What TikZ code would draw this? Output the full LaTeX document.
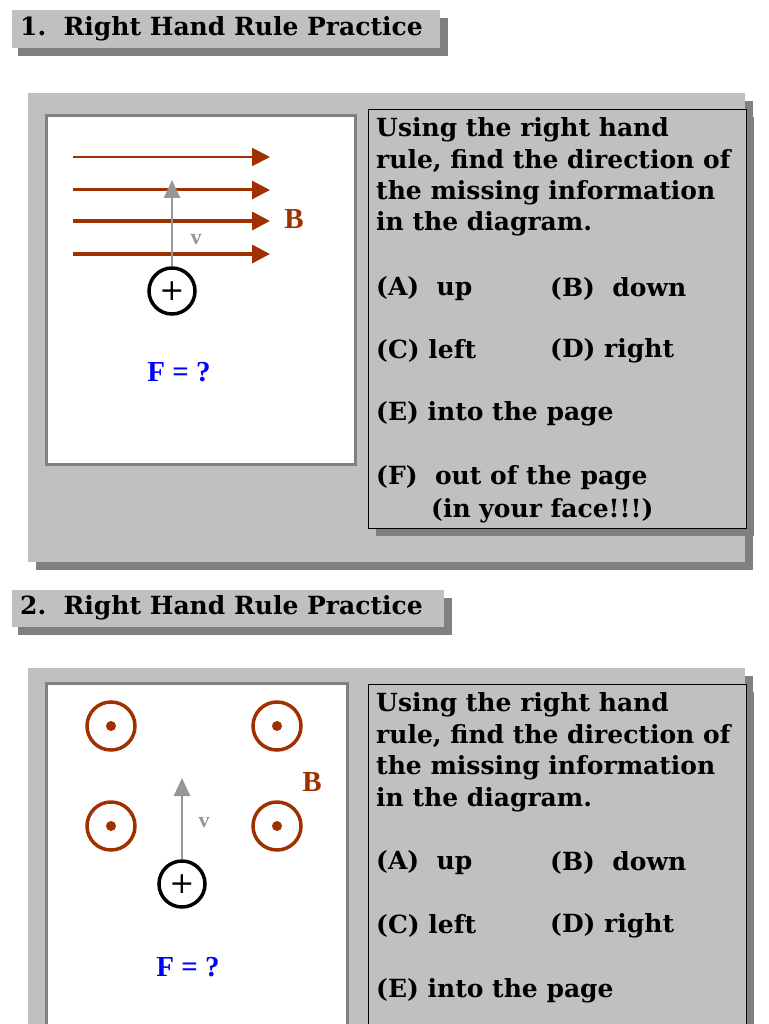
\documentclass[tikz,border=0pt]{standalone}
\usepackage{fontspec}
\setmainfont{DejaVu Serif}
\newfontfamily\tnr{Liberation Serif}
\usetikzlibrary{arrows.meta}
\definecolor{pg}{RGB}{192,192,192}
\definecolor{sh}{RGB}{128,128,128}
\definecolor{br}{RGB}{160,48,0}
\definecolor{vg}{RGB}{150,150,150}
\tikzset{x=1pt,y=-1pt,
 tx/.style={anchor=west,inner sep=0,font=\fontsize{25}{27}\selectfont\bfseries},
 bf/.style={-{Triangle[length=18pt,width=18pt]},br,line width=3pt},
 vf/.style={-{Triangle[length=18pt,width=16pt]},vg,line width=2.5pt},
 lab/.style={font=\tnr\fontsize{29}{31}\selectfont\bfseries}}
\begin{document}
\begin{tikzpicture}
\useasboundingbox[fill=white] (0,0) rectangle (768,1024);
% titles
\fill[sh] (18,18) rectangle (448,56);
\fill[pg] (12,10) rectangle (440,48);
\node[tx] (t1) at (20,29) {1.\ \ Right Hand Rule Practice};
\fill[sh] (18,598) rectangle (452,635);
\fill[pg] (12,590) rectangle (444,627);
\node[tx] (t2) at (20,608) {2.\ \ Right Hand Rule Practice};
% panel 1
\fill[sh] (36,101) rectangle (753,570);
\fill[pg] (28,93) rectangle (745,562);
\draw[sh,line width=3pt,fill=white] (46,116) rectangle (355,464);
\fill[sh] (376,117) rectangle (754,536);
\draw[fill=pg,line width=0.8pt] (368,109) rectangle (746,528);
\foreach \y/\w in {157/2,190/3,221/3.5,254/3.5}
  \draw[bf,line width=\w pt] (73,\y) -- (270,\y);
\node[lab,text=br] (b1) at (294,219) {B};
\node[draw,circle,line width=3.5pt,minimum size=46pt,inner sep=0,font=\fontsize{30}{30}\selectfont] (q1) at (172,291) {+};
\coordinate (v1) at (172,180);
\draw[vf] (q1.north) -- (v1);
\node[lab,text=vg,font=\tnr\fontsize{22}{24}\selectfont\bfseries] (vl1) at (196,240) {v};
\node[lab,text=blue] (f1) at (179,372) {F = ?};
\node[tx] at (376,130) {Using the right hand};
\node[tx] at (376,161) {rule, find the direction of};
\node[tx] at (376,193) {the missing information};
\node[tx] at (376,224) {in the diagram.};
\node[tx] at (376,289) {(A)\ \ up};
\node[tx] at (550,289) {(B)\ \ down};
\node[tx] at (376,351) {(C) left};
\node[tx] at (550,351) {(D) right};
\node[tx] at (376,414) {(E) into the page};
\node[tx] at (376,478) {(F)\ \ out of the page};
\node[tx] at (431,511) {(in your face!!!)};
% panel 2
\fill[sh] (36,676) rectangle (753,1030);
\fill[pg] (28,668) rectangle (745,1030);
\draw[sh,line width=3pt,fill=white] (46,683) rectangle (347,1030);
\fill[sh] (376,692) rectangle (754,1030);
\draw[fill=pg,line width=0.8pt] (368,684) rectangle (746,1040);
\foreach \x/\y [count=\i] in {111/726,277/726,111/826,277/826}{
  \node[draw=br,circle,line width=3.5pt,minimum size=48pt,inner sep=0] (c\i) at (\x,\y) {};
  \fill[br] (c\i.center) circle (5pt);}
\node[lab,text=br] (b2) at (312,782) {B};
\node[draw,circle,line width=3.5pt,minimum size=46pt,inner sep=0,font=\fontsize{30}{30}\selectfont] (q2) at (182,884) {+};
\coordinate (v2) at (182,778);
\draw[vf] (q2.north) -- (v2);
\node[lab,text=vg,font=\tnr\fontsize{22}{24}\selectfont\bfseries] (vl2) at (204,823) {v};
\node[lab,text=blue] (f2) at (188,967) {F = ?};
\node[tx] at (376,705) {Using the right hand};
\node[tx] at (376,736) {rule, find the direction of};
\node[tx] at (376,768) {the missing information};
\node[tx] at (376,800) {in the diagram.};
\node[tx] at (376,863) {(A)\ \ up};
\node[tx] at (550,863) {(B)\ \ down};
\node[tx] at (376,926) {(C) left};
\node[tx] at (550,926) {(D) right};
\node[tx] at (376,991) {(E) into the page};
\end{tikzpicture}
\end{document}
